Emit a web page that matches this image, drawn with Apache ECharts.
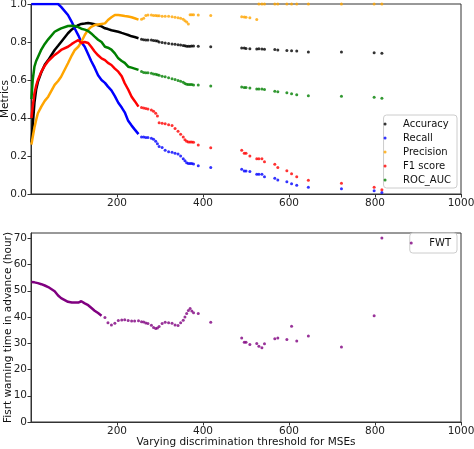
<!DOCTYPE html>
<html>
<head>
<meta charset="utf-8">
<script src="https://cdn.jsdelivr.net/npm/echarts@6/dist/echarts.min.js"></script>
<style>
  html, body { margin: 0; padding: 0; background: #fff; }
  #chart { width: 474px; height: 449px; }
</style>
</head>
<body>
<div id="chart"></div>
<script>
// discrimination thresholds (shared by every series)
const thresholds = [1, 4, 8, 12, 16, 24, 32, 40, 55, 63, 70, 86, 95, 102, 110, 117, 125, 133, 140, 148, 156, 164, 172, 179, 187, 195, 203, 211, 218, 226, 234, 241, 250,
  257, 262, 267, 272, 280, 285, 290, 294, 298, 305, 312, 320, 328, 335, 342, 348, 354, 358, 362, 366,
  370, 374, 378, 389, 418, 490, 496, 500, 509, 525, 530, 537, 543, 567, 574, 595, 606, 618, 645, 722, 798, 816];

const accuracy = [0.27, 0.36, 0.48, 0.55, 0.59, 0.64, 0.68, 0.705, 0.758, 0.78, 0.80, 0.846, 0.866, 0.877, 0.889, 0.895, 0.897, 0.9, 0.897, 0.893, 0.888, 0.882, 0.872, 0.868, 0.862, 0.858, 0.854, 0.848, 0.843, 0.837, 0.83, 0.826, 0.82,
  0.815, 0.812, 0.81, 0.81, 0.81, 0.808, 0.806, 0.805, 0.80, 0.797, 0.795, 0.792, 0.79, 0.788, 0.786, 0.784, 0.782, 0.78, 0.778, 0.778,
  0.778, 0.779, 0.779, 0.778, 0.775, 0.768, 0.768, 0.766, 0.765, 0.763, 0.764, 0.763, 0.762, 0.76, 0.758, 0.755, 0.754, 0.752, 0.747, 0.747, 0.744, 0.741];

const recall = [1, 1, 1, 1, 1, 1, 1, 1, 1, 1, 0.985, 0.942, 0.905, 0.87, 0.835, 0.80, 0.775, 0.735, 0.70, 0.665, 0.625, 0.60, 0.585, 0.565, 0.545, 0.515, 0.48, 0.455, 0.43, 0.385, 0.36, 0.34, 0.315,
  0.30, 0.30, 0.298, 0.297, 0.293, 0.288, 0.278, 0.265, 0.25, 0.245, 0.23, 0.222, 0.22, 0.215, 0.21, 0.2, 0.185, 0.175, 0.165, 0.16,
  0.16, 0.16, 0.158, 0.149, 0.139, 0.13, 0.121, 0.121, 0.118, 0.104, 0.104, 0.104, 0.091, 0.083, 0.074, 0.065, 0.054, 0.046, 0.035, 0.028, 0.017, 0.008];

const precision = [0.26, 0.30, 0.35, 0.39, 0.425, 0.46, 0.49, 0.512, 0.574, 0.595, 0.617, 0.688, 0.73, 0.758, 0.775, 0.80, 0.837, 0.865, 0.88, 0.889, 0.892, 0.895, 0.898, 0.916, 0.93, 0.942, 0.942, 0.94, 0.937, 0.934, 0.93, 0.925, 0.918,
  0.92, 0.925, 0.94, 0.942, 0.942, 0.94, 0.94, 0.938, 0.938, 0.936, 0.935, 0.935, 0.933, 0.93, 0.928, 0.925, 0.92, 0.912, 0.905, 0.895,
  0.944, 0.944, 0.944, 0.942, 0.94, 0.933, 0.932, 0.93, 0.928, 0.918, 1, 1, 1, 1, 1, 1, 1, 1, 1, 1, 1, 1];

const f1Score = [0.40, 0.46, 0.53, 0.57, 0.60, 0.644, 0.675, 0.70, 0.732, 0.745, 0.758, 0.775, 0.79, 0.80, 0.81, 0.795, 0.80, 0.795, 0.775, 0.75, 0.73, 0.714, 0.705, 0.69, 0.679, 0.66, 0.644, 0.62, 0.583, 0.55, 0.512, 0.49, 0.46,
  0.455, 0.452, 0.45, 0.448, 0.442, 0.435, 0.425, 0.41, 0.375, 0.372, 0.37, 0.365, 0.36, 0.345, 0.33, 0.315, 0.3, 0.285, 0.278, 0.274,
  0.274, 0.274, 0.272, 0.258, 0.244, 0.23, 0.214, 0.214, 0.2, 0.186, 0.186, 0.186, 0.17, 0.156, 0.139, 0.123, 0.107, 0.091, 0.072, 0.056, 0.036, 0.022];

const rocAuc = [0.50, 0.60, 0.67, 0.70, 0.72, 0.76, 0.79, 0.814, 0.854, 0.864, 0.872, 0.884, 0.886, 0.884, 0.878, 0.87, 0.865, 0.858, 0.845, 0.828, 0.812, 0.80, 0.775, 0.77, 0.76, 0.74, 0.714, 0.70, 0.69, 0.67, 0.665, 0.66, 0.653,
  0.645, 0.64, 0.638, 0.638, 0.635, 0.632, 0.63, 0.628, 0.625, 0.62, 0.617, 0.612, 0.607, 0.602, 0.598, 0.594, 0.588, 0.582, 0.578, 0.576,
  0.576, 0.576, 0.574, 0.574, 0.568, 0.563, 0.561, 0.56, 0.558, 0.553, 0.553, 0.552, 0.55, 0.541, 0.538, 0.533, 0.528, 0.523, 0.517, 0.514, 0.509, 0.504];

const fwt = [53.3, 53.3, 53.2, 53.0, 52.9, 52.5, 52.0, 51.4, 49.8, 48.2, 47.2, 45.8, 45.5, 45.5, 45.5, 46.0, 45.2, 44.5, 43.5, 42.4, 41.5, 40.5, 39.8, 37.8, 37.0, 37.6, 38.7, 38.9, 39.0, 38.7, 38.5, 38.5, 38.6,
  38.2, 38.1, 37.7, 37.5, 36.9, 36.0, 35.6, 35.8, 36.4, 37.5, 38.0, 37.8, 37.6, 37.0, 36.8, 37.8, 38.8, 40.0, 41.3, 42.5,
  43.2, 42.3, 41.6, 41.3, 38.0, 32.0, 30.4, 30.4, 29.5, 29.9, 28.9, 28.3, 29.8, 31.7, 32.0, 31.4, 36.5, 30.9, 32.8, 28.6, 40.5, 70.1];

const xTicks = [200, 400, 600, 800, 1000];
const metricTicks = [0, 0.2, 0.4, 0.6, 0.8, 1.0];
const fwtTicks = [0, 10, 20, 30, 40, 50, 60, 70];

const FONT = 'DejaVu Sans';
const AXIS_COLOR = '#333';

// points are so close together at low thresholds that they read as a line
const topLineEnd = 250;
const bottomLineEnd = 170;

function pairs(values, keep) {
  const out = [];
  thresholds.forEach((t, i) => { if (keep(t)) out.push([t, values[i]]); });
  return out;
}

function metricSeries(name, values, color, lineEnd, axisIndex) {
  return [
    {
      name: name, type: 'scatter', xAxisIndex: axisIndex, yAxisIndex: axisIndex,
      symbolSize: 3, itemStyle: { color: color },
      data: pairs(values, t => t > lineEnd)
    },
    {
      name: name, type: 'line', xAxisIndex: axisIndex, yAxisIndex: axisIndex,
      showSymbol: false, lineStyle: { color: color, width: 2.5 }, itemStyle: { color: color },
      data: pairs(values, t => t <= lineEnd)
    }
  ];
}

function xAxis(gridIndex, name) {
  return {
    type: 'value', gridIndex: gridIndex, min: 0, max: 1000,
    name: name, nameLocation: 'middle', nameGap: 15, nameMoveOverlap: false,
    nameTextStyle: { fontFamily: FONT, fontSize: 10.5, color: '#111' },
    axisLine: { show: true, lineStyle: { color: AXIS_COLOR, width: 1 } },
    axisTick: { show: true, length: 3.5, customValues: xTicks, lineStyle: { color: AXIS_COLOR } },
    axisLabel: { customValues: xTicks, margin: 4, fontFamily: FONT, fontSize: 10.5, color: '#222', formatter: v => String(v) },
    splitLine: { show: false }
  };
}

function yAxis(gridIndex, name, max, ticks, fmt, gap) {
  return {
    type: 'value', gridIndex: gridIndex, min: 0, max: max,
    name: name, nameLocation: 'middle', nameGap: gap, nameRotate: 90, nameMoveOverlap: false,
    nameTextStyle: { fontFamily: FONT, fontSize: 10.5, color: '#111' },
    axisLine: { show: true, lineStyle: { color: AXIS_COLOR, width: 1 } },
    axisTick: { show: true, length: 3.5, customValues: ticks, lineStyle: { color: AXIS_COLOR } },
    axisLabel: { customValues: ticks, margin: 4, fontFamily: FONT, fontSize: 10.5, color: '#222', formatter: fmt },
    splitLine: { show: false }
  };
}

const legendBase = {
  orient: 'vertical', right: 17, icon: 'circle', itemWidth: 26, itemHeight: 3, itemGap: 0,
  backgroundColor: 'rgba(255,255,255,0.8)', borderColor: '#cccccc', borderWidth: 1, borderRadius: 3,
  textStyle: { fontFamily: FONT, fontSize: 10, color: '#111', lineHeight: 14 }
};

const chart = echarts.init(document.getElementById('chart'), null, { renderer: 'canvas' });

chart.setOption({
  animation: false,
  grid: [
    { left: 31, right: 13, top: 4, height: 190, show: true, borderColor: AXIS_COLOR, borderWidth: 1, outerBoundsMode: 'none', containLabel: false },
    { left: 31, right: 13, top: 233, height: 189, show: true, borderColor: AXIS_COLOR, borderWidth: 1, outerBoundsMode: 'none', containLabel: false }
  ],
  xAxis: [xAxis(0, ''), xAxis(1, 'Varying discrimination threshold for MSEs')],
  yAxis: [
    yAxis(0, 'Metrics', 1, metricTicks, v => v.toFixed(1), 20),
    yAxis(1, 'Fisrt warning time in advance (hour)', 72, fwtTicks, v => String(v), 17)
  ],
  legend: [
    Object.assign({}, legendBase, {
      top: 115, padding: [2, 6, 1, 0],
      data: ['Accuracy', 'Recall', 'Precision', 'F1 score', 'ROC_AUC']
    }),
    Object.assign({}, legendBase, {
      top: 233, padding: [3, 6, 3, 0],
      data: ['FWT']
    })
  ],
  series: [
    ...metricSeries('Accuracy', accuracy, '#000000', topLineEnd, 0),
    ...metricSeries('Recall', recall, '#0000ff', topLineEnd, 0),
    ...metricSeries('Precision', precision, '#ffa500', topLineEnd, 0),
    ...metricSeries('F1 score', f1Score, '#ff0000', topLineEnd, 0),
    ...metricSeries('ROC_AUC', rocAuc, '#008000', topLineEnd, 0),
    ...metricSeries('FWT', fwt, '#800080', bottomLineEnd, 1)
  ]
});
</script>
</body>
</html>
